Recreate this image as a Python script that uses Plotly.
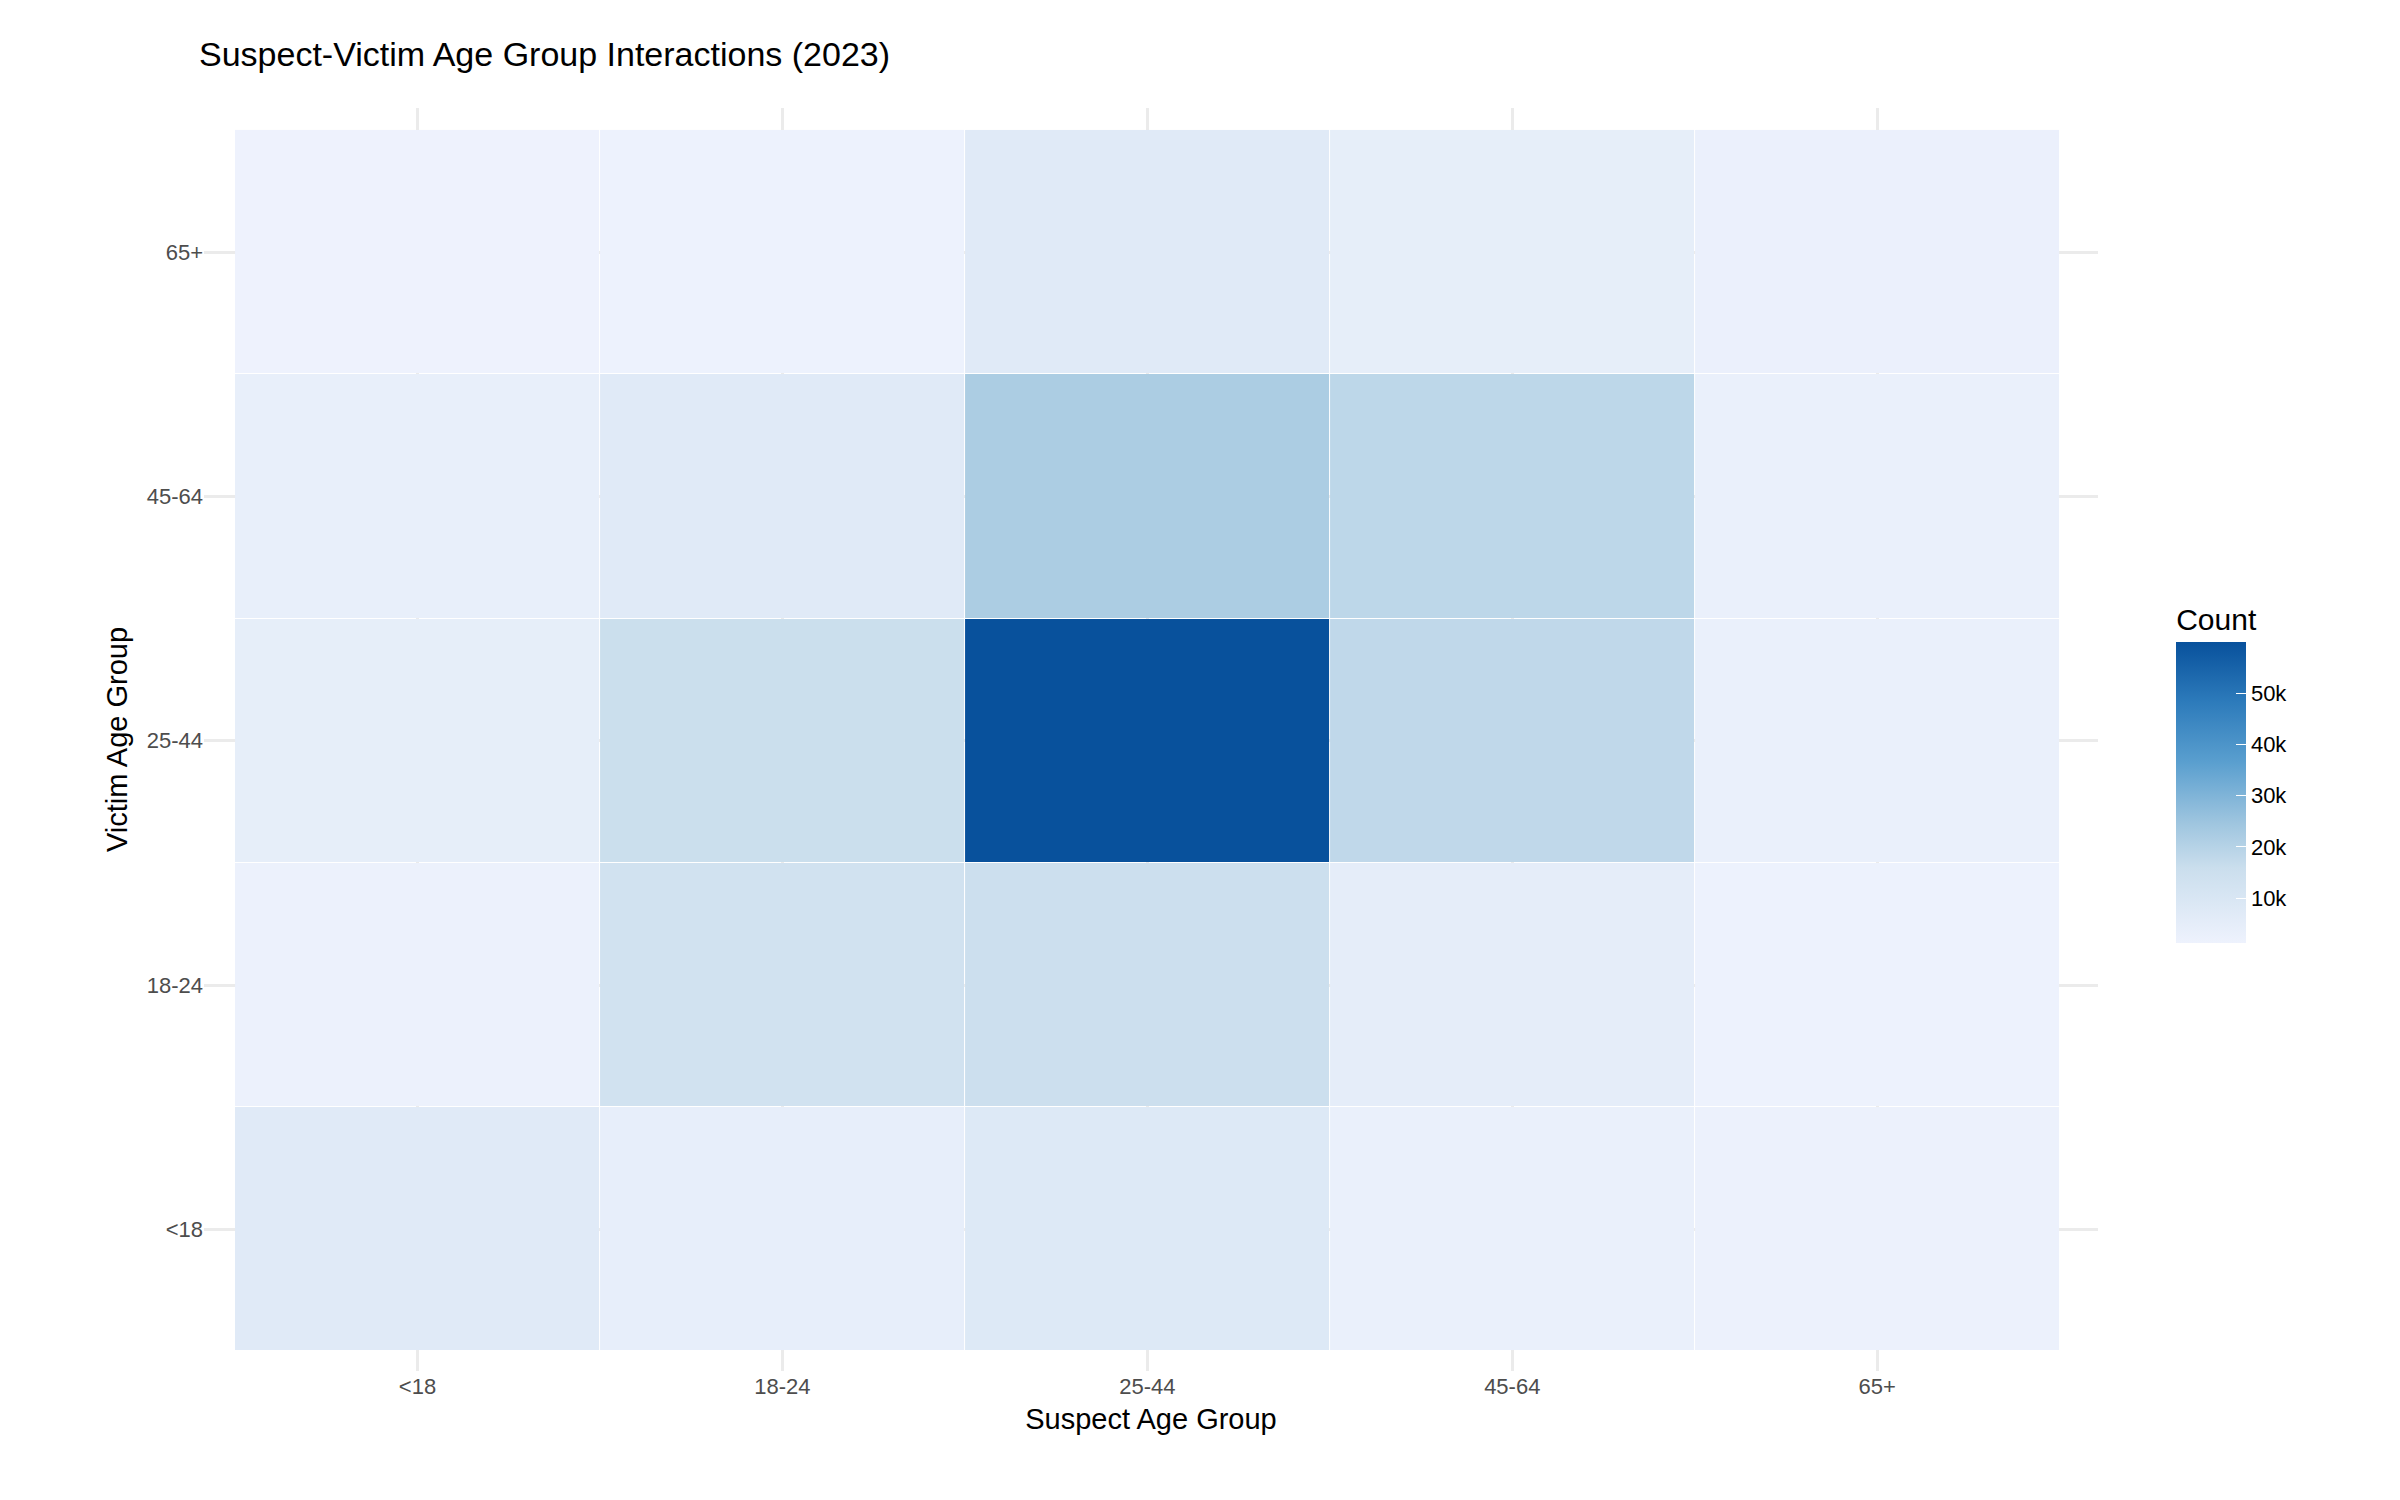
import plotly.graph_objects as go

suspect = ["<18", "18-24", "25-44", "45-64", "65+"]
victim = ["<18", "18-24", "25-44", "45-64", "65+"]
# rows = victim groups, cols = suspect groups
counts = [
    [7000, 4000, 8000, 3000, 2000],
    [2000, 13000, 15000, 5000, 1500],
    [4500, 15500, 60000, 18000, 3000],
    [3500, 7000, 22000, 18500, 3000],
    [1200, 1500, 7000, 4500, 2500],
]

fig = go.Figure(go.Heatmap(
    z=counts, x=suspect, y=victim, xgap=1, ygap=1, zmin=1200, zmax=60000,
    colorscale=[[0, "#eef2fd"], [0.25, "#cadeed"], [0.4, "#9ec5df"], [0.6, "#5a9fcf"],
                [0.8, "#2d7bbb"], [1, "#08519c"]],
    colorbar=dict(title=dict(text="Count", side="top", font=dict(size=30, color="#000")),
                  x=1.036, xanchor="left", y=0.473, yanchor="middle",
                  len=359, lenmode="pixels", thickness=70, outlinewidth=0,
                  tickvals=[10000, 20000, 30000, 40000, 50000], ticks="inside",
                  tickcolor="white", ticklen=10, tickfont=dict(size=22, color="#000")),
))
fig.update_layout(
    width=2400, height=1500, plot_bgcolor="white", paper_bgcolor="white",
    margin=dict(l=196, r=310, t=100, b=137),
    font=dict(family="Liberation Sans, Arial, sans-serif"),
    title=dict(text="Suspect-Victim Age Group Interactions (2023)", x=191/2400, xanchor="left",
               y=1-46/1500, yanchor="middle", font=dict(size=34, color="#000")),
    xaxis=dict(title=dict(text="Suspect Age Group", font=dict(size=29, color="#000"), standoff=10),
               range=[-0.585, 4.605], showgrid=True, gridcolor="#ebebeb", gridwidth=3,
               tickfont=dict(size=22, color="#4d4d4d"), zeroline=False),
    yaxis=dict(title=dict(text="Victim Age Group", font=dict(size=29, color="#000"), standoff=10),
               range=[-0.58, 4.59], showgrid=True, gridcolor="#ebebeb", gridwidth=3,
               tickfont=dict(size=22, color="#4d4d4d"), zeroline=False),
)
fig.write_html("out.html")
